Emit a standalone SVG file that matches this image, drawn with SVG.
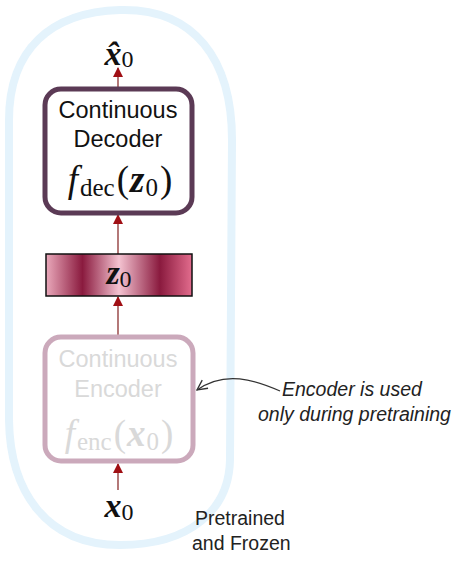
<svg xmlns="http://www.w3.org/2000/svg" width="474" height="569" viewBox="0 0 474 569">
<style>
.lbl{font-family:"Liberation Sans",Arial,sans-serif;font-size:23.5px;text-anchor:middle}
.math{font-family:"Liberation Serif","Times New Roman",serif}
.mb{font-weight:bold;font-style:italic}
.ann{font-family:"Liberation Sans",Arial,sans-serif;font-size:19.5px;fill:#222}
.conn{stroke:#8b3030;stroke-width:1.3;fill:none}
</style>
<defs>
<marker id="ah" viewBox="0 0 10 10" refX="9" refY="5" markerWidth="10" markerHeight="10" markerUnits="userSpaceOnUse" orient="auto">
<path d="M0,0 L10,5 L0,10 Z" fill="#a00f14"/>
</marker>
<marker id="open" viewBox="0 0 12 12" refX="11" refY="6" markerWidth="12" markerHeight="12" markerUnits="userSpaceOnUse" orient="auto">
<path d="M1,1 L11,6 L1,11" fill="none" stroke="#333" stroke-width="1.3"/>
</marker>
<linearGradient id="zg" x1="0" y1="0" x2="1" y2="0">
<stop offset="0" stop-color="#eaa9bb"/>
<stop offset="0.25" stop-color="#8a1a3e"/>
<stop offset="0.5" stop-color="#f4c3d1"/>
<stop offset="0.78" stop-color="#8a1a3e"/>
<stop offset="1" stop-color="#e26c8d"/>
</linearGradient>
</defs>
<rect width="474" height="569" fill="#ffffff"/>
<g id="frozen-region">
<path d="M120 10 C195 8 232 60 232 140 L230 460 C229 510 190 545 120 545 C45 545 10 490 9 420 L9 120 C9 50 50 12 120 10 Z" fill="none" stroke="#e4f3fc" stroke-width="8"/>
<text class="ann" x="195" y="525">Pretrained</text>
<text class="ann" x="192" y="550">and Frozen</text>
</g>
<g id="connectors">
<line class="conn" x1="118" y1="89" x2="118" y2="68" marker-end="url(#ah)"/>
<line class="conn" x1="118" y1="254" x2="118" y2="215" marker-end="url(#ah)"/>
<line class="conn" x1="118" y1="337" x2="118" y2="297" marker-end="url(#ah)"/>
<line class="conn" x1="118" y1="490" x2="118" y2="464" marker-end="url(#ah)"/>
<path d="M280 391 C255 380 225 370 197 390" fill="none" stroke="#333" stroke-width="1.3" marker-end="url(#open)"/>
</g>
<g id="x0hat">
<text class="math" x="119" y="65" text-anchor="middle" font-size="34" fill="#111"><tspan class="mb">x̂</tspan><tspan font-size="24" dy="2">0</tspan></text>
</g>
<g id="decoder">
<rect x="45" y="89" width="147" height="124" rx="16" fill="#ffffff" stroke="#5b3a55" stroke-width="5"/>
<text class="lbl" x="118" y="118" fill="#111">Continuous</text>
<text class="lbl" x="118" y="147" fill="#111">Decoder</text>
<text class="math" x="120" y="192" text-anchor="middle" font-size="37" fill="#111"><tspan font-style="italic">f</tspan><tspan font-size="25" dy="4" dx="2">dec</tspan><tspan dy="-4" dx="2">(</tspan><tspan class="mb" dx="1">z</tspan><tspan font-size="25" dy="4" dx="1">0</tspan><tspan dy="-4" dx="2">)</tspan></text>
</g>
<g id="z0">
<rect x="46" y="254" width="146" height="42" fill="url(#zg)" stroke="#111" stroke-width="1.5"/>
<text class="math" x="119" y="284" text-anchor="middle" font-size="34" fill="#111"><tspan class="mb">z</tspan><tspan font-size="24" dy="3">0</tspan></text>
</g>
<g id="encoder">
<rect x="45" y="337" width="148" height="124" rx="16" fill="#ffffff" stroke="#cba9bb" stroke-width="5"/>
<text class="lbl" x="118" y="367" fill="#d9d9d9">Continuous</text>
<text class="lbl" x="118" y="397" fill="#d9d9d9">Encoder</text>
<text class="math" x="119" y="446" text-anchor="middle" font-size="37" fill="#d9d9d9"><tspan font-style="italic">f</tspan><tspan font-size="25" dy="4" dx="2">enc</tspan><tspan dy="-4" dx="2">(</tspan><tspan class="mb" dx="1">x</tspan><tspan font-size="25" dy="4" dx="1">0</tspan><tspan dy="-4" dx="2">)</tspan></text>
</g>
<g id="x0">
<text class="math" x="119" y="517" text-anchor="middle" font-size="34" fill="#111"><tspan class="mb">x</tspan><tspan font-size="24" dy="3">0</tspan></text>
</g>
<g id="annotation">
<text class="ann" x="282" y="396" font-style="italic">Encoder is used</text>
<text class="ann" x="258" y="421" font-style="italic">only during pretraining</text>
</g>
</svg>
